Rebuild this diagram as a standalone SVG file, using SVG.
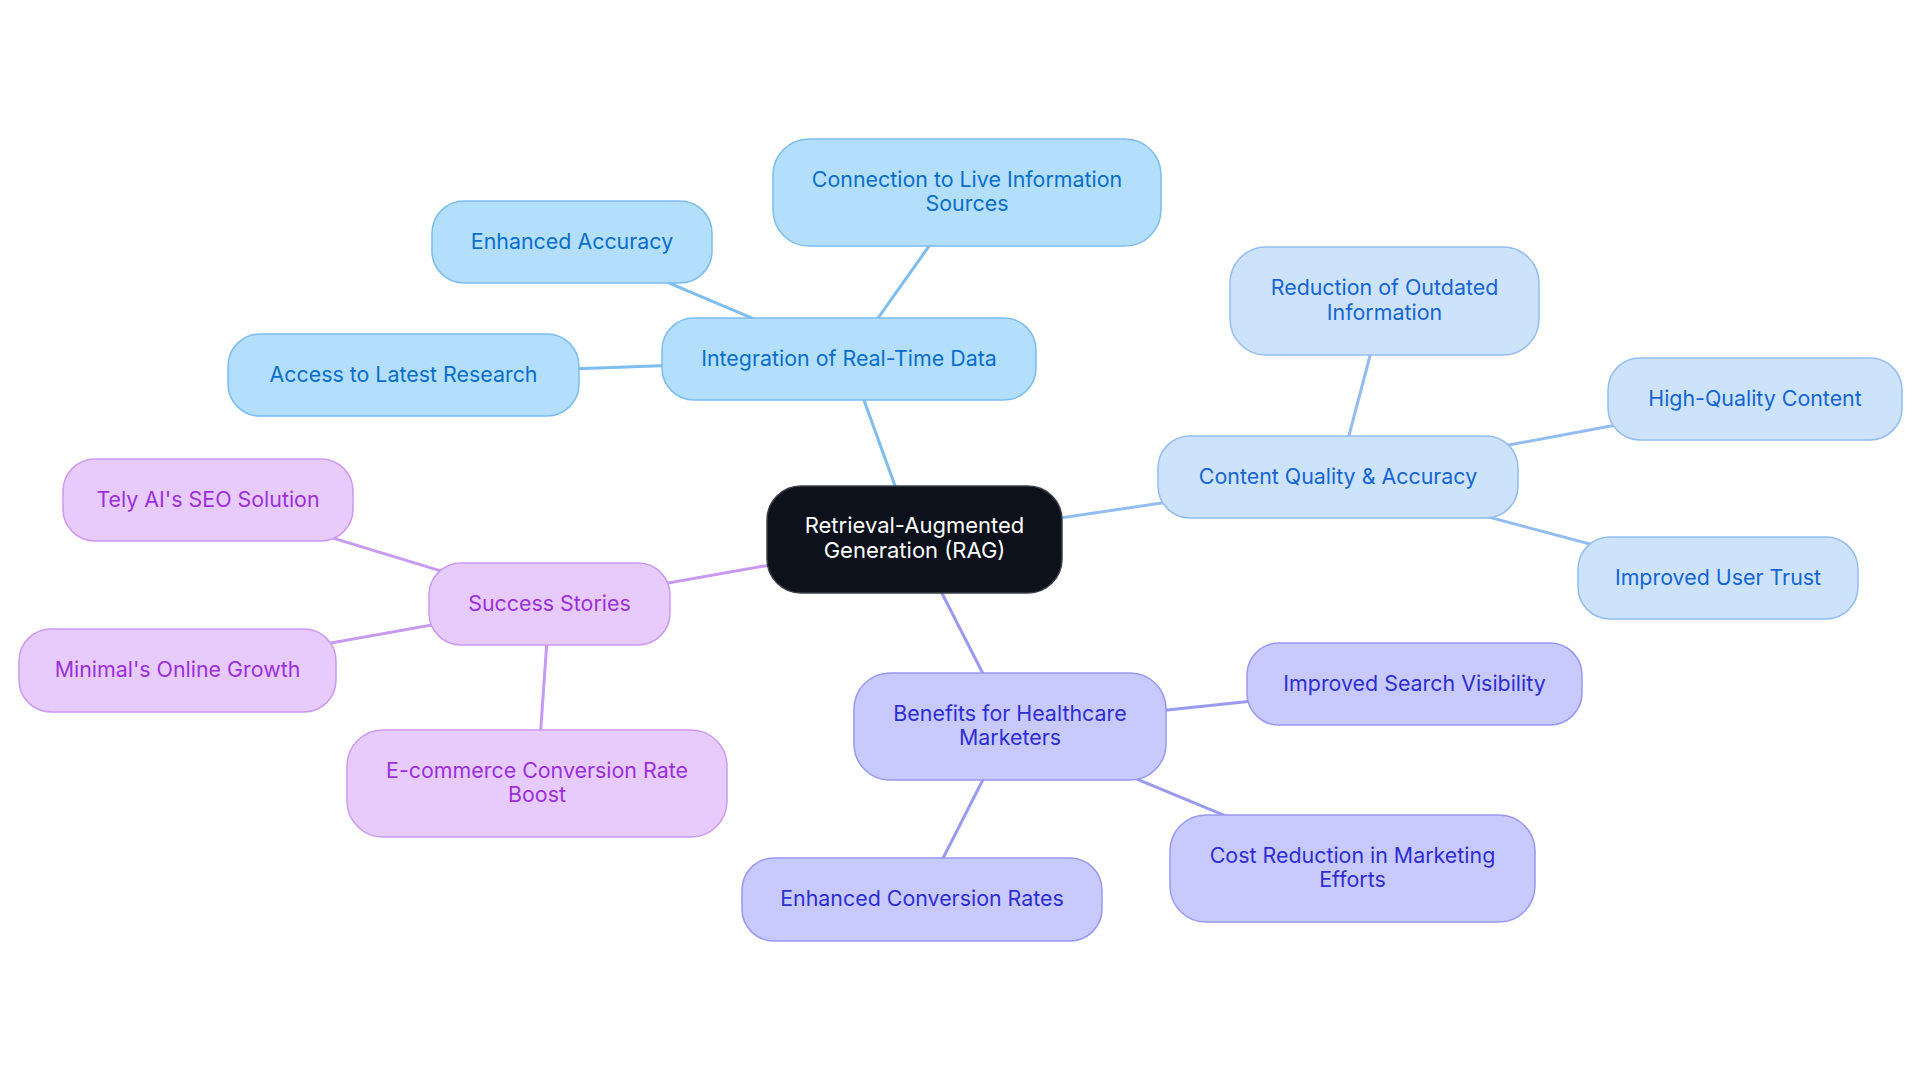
<svg xmlns="http://www.w3.org/2000/svg" width="1920" height="1083" viewBox="0 0 1920 1083">
<style>
text{font-family:Inter,"Noto Sans","Liberation Sans",sans-serif;font-size:21.4px;text-anchor:middle}
.e{stroke-width:3;fill:none;stroke-linecap:round}
.e1{stroke:#7dbdf0}.e2{stroke:#93bdf0}.e3{stroke:#9a9af0}.e4{stroke:#c899f0}
.n1 rect{fill:#b3dffd;stroke:#7cbcef;stroke-width:1.5}.n1 text{fill:#0a6ec8}
.n2 rect{fill:#cde3fb;stroke:#93bdf0;stroke-width:1.5}.n2 text{fill:#1565d0}
.n3 rect{fill:#c8c9fc;stroke:#9898f0;stroke-width:1.5}.n3 text{fill:#2e2ed0}
.n4 rect{fill:#e8cbfd;stroke:#cc99f0;stroke-width:1.5}.n4 text{fill:#9b30d9}
.root rect{fill:#0c111b;stroke:#3a3f48;stroke-width:1.5}.root text{fill:#ffffff;font-size:22px}
</style>
<rect width="1920" height="1083" fill="#ffffff"/>
<g id="connectors">
<line class="e e1" x1="914.5" y1="539.5" x2="849" y2="359"/>
<line class="e e1" x1="849" y1="359" x2="967" y2="192.5"/>
<line class="e e1" x1="849" y1="359" x2="572" y2="242"/>
<line class="e e1" x1="849" y1="359" x2="403.5" y2="375"/>
<line class="e e2" x1="914.5" y1="539.5" x2="1338" y2="477"/>
<line class="e e2" x1="1338" y1="477" x2="1384.5" y2="301"/>
<line class="e e2" x1="1338" y1="477" x2="1755" y2="399"/>
<line class="e e2" x1="1338" y1="477" x2="1718" y2="578"/>
<line class="e e3" x1="914.5" y1="539.5" x2="1010" y2="726.5"/>
<line class="e e3" x1="1010" y1="726.5" x2="1414.5" y2="684"/>
<line class="e e3" x1="1010" y1="726.5" x2="1352.5" y2="868.5"/>
<line class="e e3" x1="1010" y1="726.5" x2="922" y2="899.5"/>
<line class="e e4" x1="914.5" y1="539.5" x2="549.5" y2="604"/>
<line class="e e4" x1="549.5" y1="604" x2="208" y2="500"/>
<line class="e e4" x1="549.5" y1="604" x2="177.5" y2="670.5"/>
<line class="e e4" x1="549.5" y1="604" x2="537" y2="783.5"/>
</g>
<g id="root" class="root"><rect x="767" y="486" width="295" height="107" rx="34"/><text x="914.5" y="533">Retrieval-Augmented</text><text x="914.5" y="558">Generation (RAG)</text></g>
<g id="integration" class="n1"><rect x="662" y="318" width="374" height="82" rx="32"/><text x="849" y="366">Integration of Real-Time Data</text></g>
<g id="connection" class="n1"><rect x="773" y="139" width="388" height="107" rx="36"/><text x="967" y="187">Connection to Live Information</text><text x="967" y="211">Sources</text></g>
<g id="enhanced-accuracy" class="n1"><rect x="432" y="201" width="280" height="82" rx="32"/><text x="572" y="248.5">Enhanced Accuracy</text></g>
<g id="access" class="n1"><rect x="228" y="334" width="351" height="82" rx="32"/><text x="403.5" y="381.5">Access to Latest Research</text></g>
<g id="content-quality" class="n2"><rect x="1158" y="436" width="360" height="82" rx="32"/><text x="1338" y="483.5">Content Quality &amp; Accuracy</text></g>
<g id="reduction" class="n2"><rect x="1230" y="247" width="309" height="108" rx="36"/><text x="1384.5" y="295">Reduction of Outdated</text><text x="1384.5" y="320">Information</text></g>
<g id="high-quality" class="n2"><rect x="1608" y="358" width="294" height="82" rx="32"/><text x="1755" y="405.5">High-Quality Content</text></g>
<g id="user-trust" class="n2"><rect x="1578" y="537" width="280" height="82" rx="32"/><text x="1718" y="584.5">Improved User Trust</text></g>
<g id="benefits" class="n3"><rect x="854" y="673" width="312" height="107" rx="36"/><text x="1010" y="721">Benefits for Healthcare</text><text x="1010" y="745">Marketers</text></g>
<g id="search-visibility" class="n3"><rect x="1247" y="643" width="335" height="82" rx="32"/><text x="1414.5" y="690.5">Improved Search Visibility</text></g>
<g id="cost-reduction" class="n3"><rect x="1170" y="815" width="365" height="107" rx="36"/><text x="1352.5" y="863">Cost Reduction in Marketing</text><text x="1352.5" y="887">Efforts</text></g>
<g id="conversion-rates" class="n3"><rect x="742" y="858" width="360" height="83" rx="32"/><text x="922" y="906">Enhanced Conversion Rates</text></g>
<g id="success" class="n4"><rect x="429" y="563" width="241" height="82" rx="32"/><text x="549.5" y="610.5">Success Stories</text></g>
<g id="tely" class="n4"><rect x="63" y="459" width="290" height="82" rx="32"/><text x="208" y="506.5">Tely AI's SEO Solution</text></g>
<g id="minimal" class="n4"><rect x="19" y="629" width="317" height="83" rx="32"/><text x="177.5" y="677">Minimal's Online Growth</text></g>
<g id="ecommerce" class="n4"><rect x="347" y="730" width="380" height="107" rx="36"/><text x="537" y="778">E-commerce Conversion Rate</text><text x="537" y="802">Boost</text></g>
</svg>
